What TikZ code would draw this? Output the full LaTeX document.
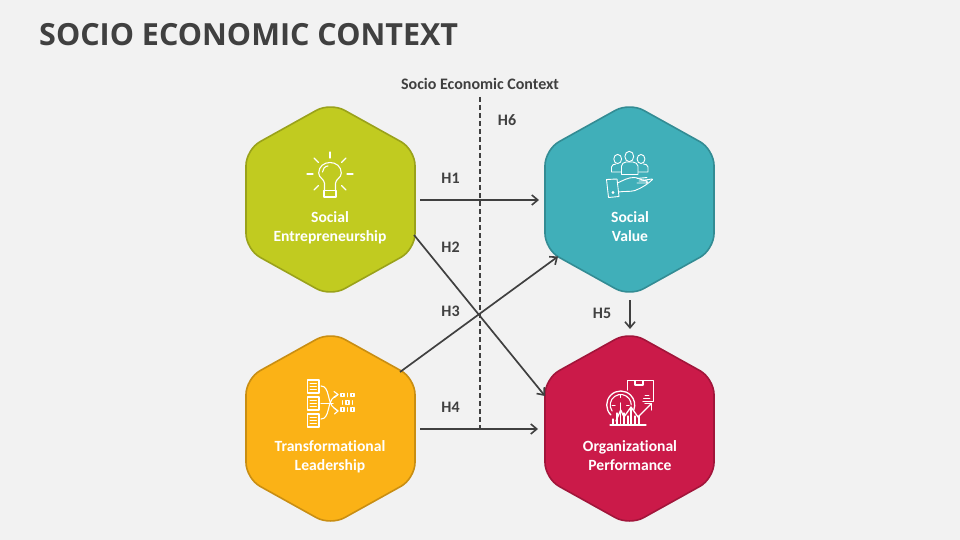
\documentclass[tikz,border=0pt]{standalone}
\usepackage{fontspec}
\setmainfont[Ligatures=NoCommon]{Carlito}
\newfontfamily\titlefont{Open Sans}
\usetikzlibrary{arrows.meta}
\definecolor{ink}{HTML}{404040}
\definecolor{bgc}{HTML}{F2F2F2}
\definecolor{lime}{HTML}{C1CB20}
\definecolor{limeD}{HTML}{9AA21A}
\definecolor{teal}{HTML}{40AFB9}
\definecolor{tealD}{HTML}{338C94}
\definecolor{amber}{HTML}{FBB216}
\definecolor{amberD}{HTML}{C98E12}
\definecolor{crim}{HTML}{CB1A49}
\definecolor{crimD}{HTML}{A2153A}
\tikzset{
  x=1pt,y=-1pt,
  hexa/.style={line width=1.6pt,rounded corners=16pt},
  link/.style={ink,line width=1.7pt,-{Straight Barb[length=6pt,width=10pt,line width=1.6pt]}},
  guide/.style={ink,line width=1.6pt,dash pattern=on 5pt off 3pt},
  lab/.style={text=ink,font=\bfseries\fontsize{16}{19}\selectfont,inner sep=0pt,anchor=center},
  captext/.style={text=white,font=\bfseries\fontsize{15.6}{19}\selectfont,align=center,inner sep=0pt,anchor=center},
  ico/.style={white,line width=1.1pt,line cap=round,line join=round},
  icof/.style={white,line width=.9pt,line cap=round,line join=round}
}
\newcommand{\hexshape}[5]{%
 \begin{scope}[shift={(#1,#2)}]
  \draw[hexa,fill=#3,draw=#4] (0,-97) -- (84.5,-50) -- (84.5,50) -- (0,97) -- (-84.5,50) -- (-84.5,-50) -- cycle;
 \end{scope}
 \coordinate (#5) at (#1,#2);}
\begin{document}
\begin{tikzpicture}
\useasboundingbox (0,0) rectangle (960,540);
\fill[bgc] (0,0) rectangle (960,540);
\node[text=ink,font=\titlefont\bfseries\fontsize{30.5}{36}\selectfont,anchor=west,inner sep=0pt] (title) at (39,34.5) {SOCIO ECONOMIC CONTEXT};

\hexshape{330.5}{199.5}{lime}{limeD}{hexA}
\hexshape{629.5}{199.5}{teal}{tealD}{hexB}
\hexshape{330.5}{428.5}{amber}{amberD}{hexC}
\hexshape{629.5}{428.5}{crim}{crimD}{hexD}

% connector ends
\coordinate (a1) at (420,200); \coordinate (b1) at (539,200);
\coordinate (a2) at (414,235); \coordinate (d2) at (545,396);
\coordinate (c3) at (400,372); \coordinate (b3) at (558,256.5);
\coordinate (c4) at (420,429); \coordinate (d4) at (538,429);
\coordinate (b5) at (630,300); \coordinate (d5) at (630,329);
\coordinate (g1) at (480,97);  \coordinate (g2) at (480,429);

\draw[guide] (g1) -- (g2);
\draw[link] (a1) -- (b1);
\draw[link] (a2) -- (d2);
\draw[link] (c3) -- (b3);
\draw[link] (c4) -- (d4);
\draw[link] (b5) -- (d5);

\node[lab] (ctx) at (480,83.5) {Socio Economic Context};
\node[lab] (h6) at (507,120.5) {H6};
\node[lab] (h1) at (450.5,178.5) {H1};
\node[lab] (h2) at (450.5,247.5) {H2};
\node[lab] (h3) at (450.5,311.5) {H3};
\node[lab] (h4) at (450.5,407.5) {H4};
\node[lab] (h5) at (602,313.5) {H5};

\node[captext] (ta) at (330,227.5) {Social\\Entrepreneurship};
\node[captext] (tb) at (630,226.5) {Social\\Value};
\node[captext] (tc) at (330,456.5) {Transformational\\Leadership};
\node[captext] (td) at (630,455.5) {Organizational\\Performance};

% bulb icon
\begin{scope}[ico,shift={(330,174)}]
 \draw (-5.5,9.5) .. controls (-5.5,5) and (-11.3,4) .. (-11.3,-1) .. controls (-11.3,-7.5) and (-6,-11.5) .. (0,-11.5) .. controls (6,-11.5) and (11.3,-7.5) .. (11.3,-1) .. controls (11.3,4) and (5.5,5) .. (5.5,9.5) -- (5.5,16) (-5.5,9.5) -- (-5.5,16);
 \draw (-6,16.5) rectangle (6,23) ;
 \draw (-7.5,-2) .. controls (-7.5,-5) and (-5,-8) .. (-2,-8);
 \draw (0,-22) -- (0,-16);
 \draw (-16,-16) -- (-11.5,-11.5) (16,-16) -- (11.5,-11.5);
 \draw (-23,0) -- (-17,0) (23,0) -- (17,0);
 \draw (-16,16) -- (-11.5,11.5) (16,16) -- (11.5,11.5);
\end{scope}

% people + hand icon
\begin{scope}[icof,shift={(540,130)}]
 \draw (77.7,29) circle (3.9 and 4.6);
 \draw (89.3,26.5) circle (4.4 and 5.2);
 \draw (101,29) circle (3.9 and 4.6);
 \draw (81,42) -- (71.5,42) -- (71.5,37) .. controls (71.5,35) and (74,34) .. (76,34);
 \draw (98.5,42) -- (108,42) -- (108,37) .. controls (108,35) and (105.5,34) .. (103.5,34);
 \draw (81.5,44.5) -- (81.5,36) .. controls (81.5,33.5) and (84,32.5) .. (86,32) -- (93,32) .. controls (95,32.5) and (98,33.5) .. (98,36) -- (98,44.5) -- cycle;
 % hand
 \draw (66.5,49.5) -- (77,49) -- (79,66.5) -- (68.5,67.5) -- cycle;
 \draw (73,62.5) circle (1);
 \draw (77.5,53) .. controls (84,50) and (88,47.5) .. (94,47.5) .. controls (98,47.5) and (100,50) .. (104,50) -- (108,50) (99,51) -- (106,51) .. controls (108,51) and (108,53) .. (106,53) -- (97,53)
       (105,50) -- (112,49) -- (112.5,49.5) .. controls (109,53) and (102,58) .. (95,60.5) .. controls (90,62) and (84,61) .. (78.5,62);
 \draw (97,48.5) -- (107,47.5);
\end{scope}

% document-to-binary icon
\begin{scope}[ico,shift={(280,365)}]
 \foreach \yy in {15,32,49}{
  \draw[line width=1.3pt] (27.5,\yy) rectangle (39,\yy+13);
  \draw[line width=.9pt] (30,\yy+3.5) -- (36.5,\yy+3.5) (30,\yy+6.5) -- (36.5,\yy+6.5) (30,\yy+9.5) -- (36.5,\yy+9.5);
 }
 \draw[line width=1.1pt] (41,21) .. controls (50,21) and (47,38) .. (54,43) -- (58,46);
 \draw[line width=1.1pt] (41,38.5) -- (53,38.5);
 \draw[line width=1.1pt] (41,54) .. controls (50,54) and (47,37) .. (54,32) -- (58,29.5);
 \draw[line width=1.1pt] (54,26.5) -- (58,29.5) -- (54.5,32.5);
 \draw[line width=1.1pt] (54,43) -- (58,46) -- (54.5,49);
 \foreach \yy/\pa/\pb/\pc in {30/0/1/0,37.5/1/0/1,44.5/0/1/0}{
  \foreach \xx/\d in {62.5/\pa,67.5/\pb,72.5/\pc}{
   \ifnum\d=0 \draw[line width=1.1pt] (\xx-1.5,\yy-1.9) rectangle (\xx+1.5,\yy+1.9);
   \else \draw[line width=1.1pt] (\xx,\yy-1.9) -- (\xx,\yy+1.9); \fi
  }
 }
\end{scope}

% performance icon
\begin{scope}[ico,shift={(590,370)}]
 \draw[line width=1.1pt] (37.7,20) -- (37.7,10.7) -- (63.3,10.7) -- (63.3,31.7) -- (53,31.7);
 \draw[line width=1.1pt] (45,10.7) -- (45,15) -- (53,15) -- (53,10.7);
 \draw[line width=.9pt] (53.5,28) -- (60,28) (55,25) -- (59,25);
 \draw[line width=1.3pt] (20.8,44.9) arc (-225:20:14);
 \draw[line width=1.1pt] (22.1,41) arc (-215:0:10.5);
 \draw[line width=1pt] (30.7,24.5) -- (30.7,27.5) (22,35) -- (25,35) (36.5,35) -- (39,35);
 \draw[line width=1.2pt] (20,55) -- (56,55);
 \draw[line width=1.1pt] (23,55) -- (23,49) (27,55) -- (27,43) (30.7,55) -- (30.7,33) (34,55) -- (34,43) (38,55) -- (38,46) (41,55) -- (41,38) (45,55) -- (45,46) (49,55) -- (49,46);
 \draw[line width=1.3pt] (26,51) -- (30.7,40) -- (34,47) -- (41,37) -- (48,47) -- (61.5,33.5);
 \draw[line width=1.3pt] (55,33.5) -- (61.5,33.5) -- (61.5,40);
\end{scope}
\end{tikzpicture}
\end{document}
